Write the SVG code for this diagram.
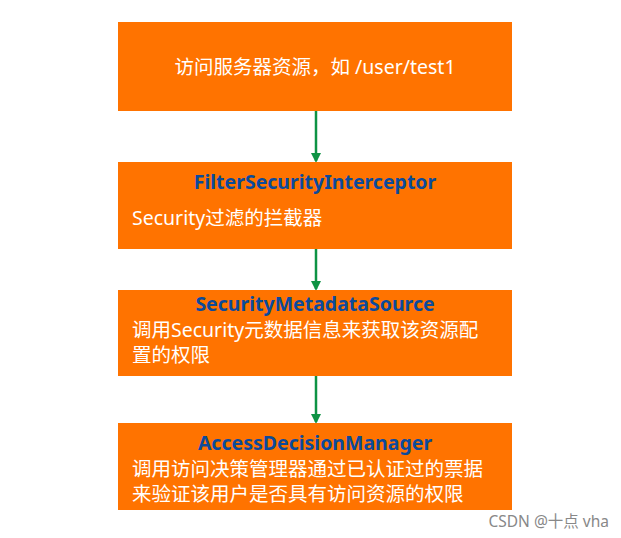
<svg xmlns="http://www.w3.org/2000/svg" width="621" height="538" viewBox="0 0 621 538">
<defs>
<style>
.box{fill:#FF7300;}
.t{font-family:"Noto Sans","Noto Sans CJK SC",sans-serif;font-size:19.5px;fill:#fff;}
.h{font-family:"Noto Sans","Noto Sans CJK SC",sans-serif;font-size:19.5px;font-weight:bold;fill:#0B4A9C;text-anchor:middle;}
.c{stroke:#0E9344;stroke-width:2.5;fill:none;marker-end:url(#a);}
</style>
<marker id="a" markerWidth="10" markerHeight="10" refX="8" refY="5" orient="auto" markerUnits="userSpaceOnUse"><path d="M0,0L10,5L0,10z" fill="#0E9344"/></marker>
</defs>
<rect width="621" height="538" fill="#fff"/>
<g id="connectors">
<line class="c" x1="316" y1="111" x2="316" y2="161"/>
<line class="c" x1="316" y1="249" x2="316" y2="289"/>
<line class="c" x1="316" y1="376" x2="316" y2="422"/>
</g>
<g id="n1"><rect class="box" x="118" y="22" width="394" height="89"/><text class="t" x="315" y="74" text-anchor="middle">访问服务器资源，如 /user/test1</text></g>
<g id="n2"><rect class="box" x="118" y="162" width="394" height="87"/><text class="h" x="315" y="189">FilterSecurityInterceptor</text><text class="t" x="132" y="225">Security过滤的拦截器</text></g>
<g id="n3"><rect class="box" x="118" y="290" width="394" height="86"/><text class="h" x="315" y="311">SecurityMetadataSource</text><text class="t" x="132" y="337">调用Security元数据信息来获取该资源配</text><text class="t" x="132" y="362">置的权限</text></g>
<g id="n4"><rect class="box" x="118" y="423" width="394" height="87"/><text class="h" x="315" y="450">AccessDecisionManager</text><text class="t" x="132" y="476">调用访问决策管理器通过已认证过的票据</text><text class="t" x="132" y="501">来验证该用户是否具有访问资源的权限</text></g>
<text x="609" y="527" text-anchor="end" font-family="Noto Sans,Noto Sans CJK SC,sans-serif" font-size="15.5" fill="#888">CSDN @十点 vha</text>
</svg>
